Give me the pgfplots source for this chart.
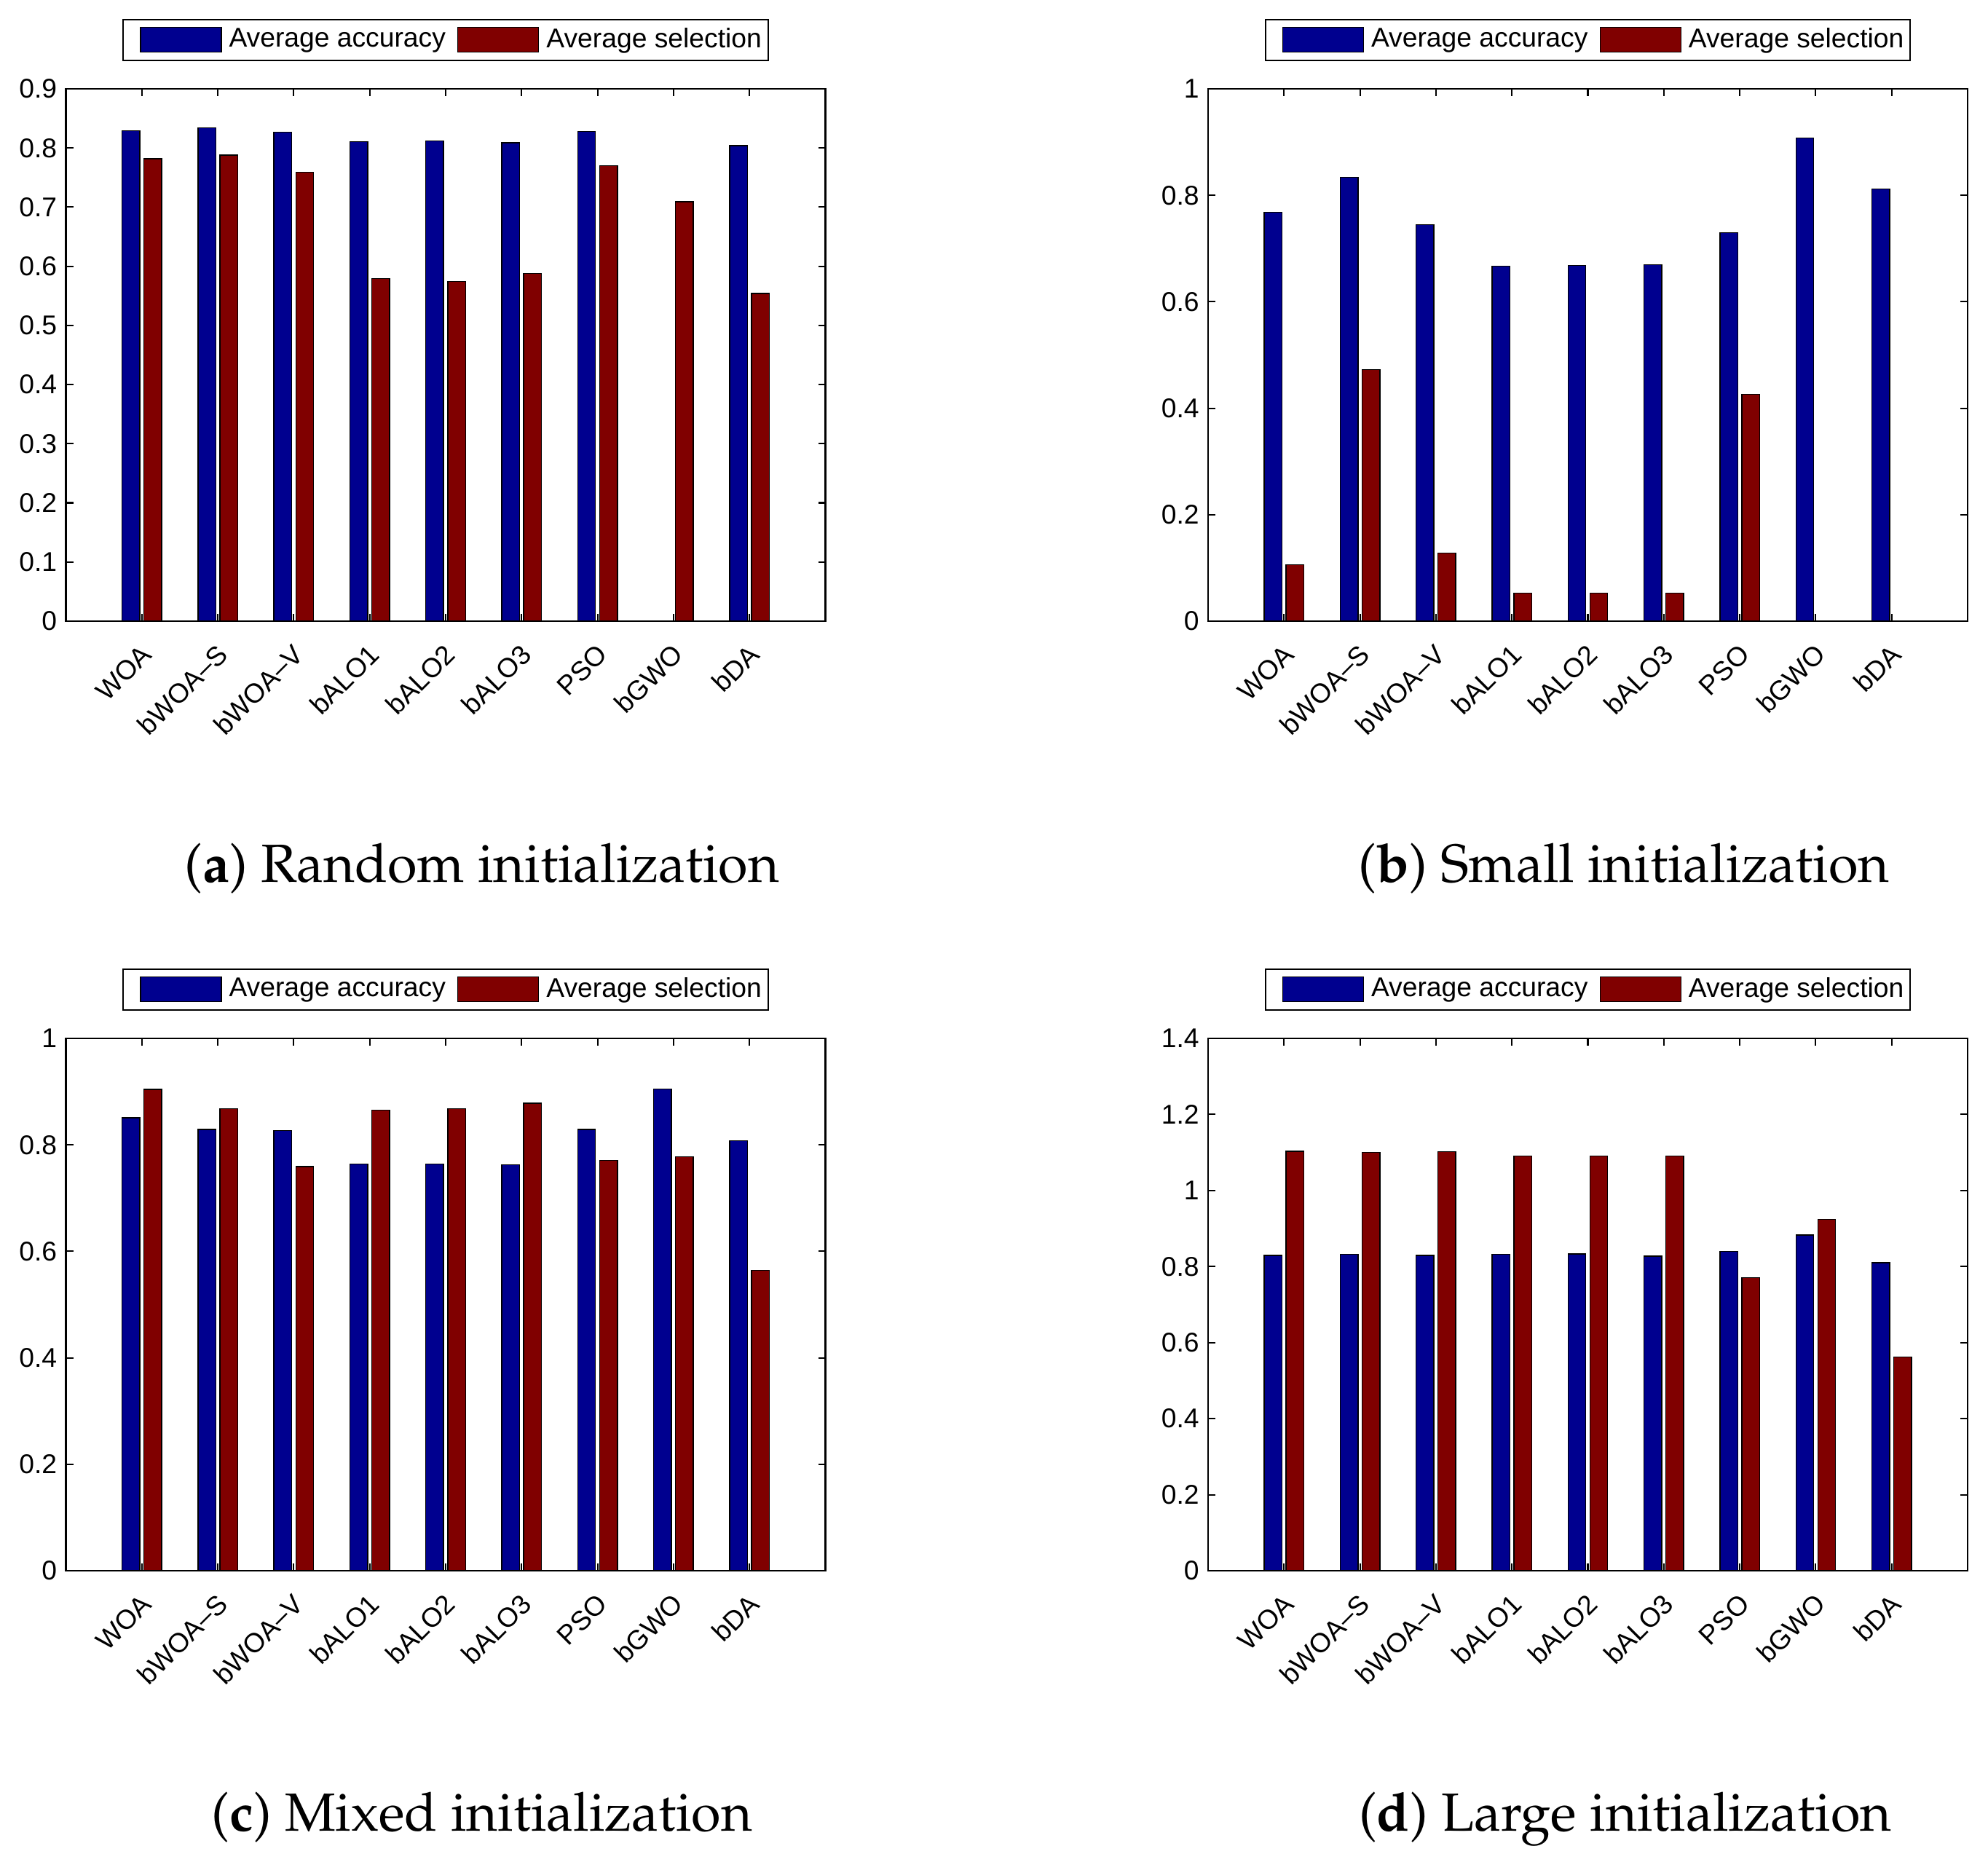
\documentclass[border=0pt]{standalone}
\usepackage{fontspec}
\setsansfont{Liberation Sans}
\usepackage{pgfplots}
\pgfplotsset{compat=1.18}

\definecolor{accblue}{RGB}{0,0,143}
\definecolor{selred}{RGB}{128,0,0}

\newcommand\tickfont{\sffamily\fontsize{10.6}{12}\selectfont}
\newcommand\capfont{\fontencoding{OT1}\fontfamily{ppl}\fontseries{m}\fontshape{n}\fontsize{21}{25}\selectfont}

\pgfplotsset{
  panel/.style={
    scale only axis, width=10.43cm, height=7.31cm,
    xmin=0, xmax=10, ymin=0,
    ybar,
    xtick={1,...,9},
    xticklabels={WOA,bWOA–S,bWOA–V,bALO1,bALO2,bALO3,PSO,bGWO,bDA},
    tick align=inside, major tick length=0.1cm,
    ticklabel style={font=\tickfont},
    xticklabel style={inner sep=0pt, xshift=0.16cm, yshift=-0.48cm, rotate=45, anchor=base east},
    /pgf/number format/assume math mode=true,
    axis line style={line width=0.6pt},
    every tick/.style={black, line width=0.6pt},
    legend columns=2,
    legend style={at={(0.5,1)}, anchor=south, yshift=0.38cm, draw=black,
      line width=0.6pt, fill=white, font=\tickfont, inner xsep=0.09cm, inner ysep=0.05cm,
      nodes={inner xsep=0pt},
      /tikz/every even column/.append style={column sep=0.02cm}},
    legend image code/.code={%
      \path (0cm,0cm) (1.35cm,0cm);
      \draw[#1, line width=0.4pt] (0.14cm,-0.17cm) rectangle (1.25cm,0.17cm);},
  },
  accbar/.style={fill=accblue, draw=black, line width=0.4pt, bar width=0.234, bar shift=-0.144},
  selbar/.style={fill=selred, draw=black, line width=0.4pt, bar width=0.234, bar shift=0.144},
}

\begin{document}
\begin{tikzpicture}
\useasboundingbox (0,0) rectangle (27.3,25.56);

% (a) Random initialization
\begin{axis}[panel, at={(0.905cm,17.03cm)}, ymax=0.9,
  ytick={0,0.1,0.2,0.3,0.4,0.5,0.6,0.7,0.8,0.9}]
\addplot[accbar] coordinates {(1,0.829) (2,0.834) (3,0.827) (4,0.811) (5,0.812) (6,0.809) (7,0.828) (8,0) (9,0.804)};
\addplot[selbar] coordinates {(1,0.782) (2,0.788) (3,0.759) (4,0.579) (5,0.574) (6,0.588) (7,0.770) (8,0.709) (9,0.554)};
\legend{Average accuracy, Average selection}
\end{axis}

% (b) Small initialization
\begin{axis}[panel, at={(16.59cm,17.03cm)}, ymax=1,
  ytick={0,0.2,0.4,0.6,0.8,1}]
\addplot[accbar] coordinates {(1,0.768) (2,0.834) (3,0.745) (4,0.667) (5,0.668) (6,0.670) (7,0.730) (8,0.908) (9,0.812)};
\addplot[selbar] coordinates {(1,0.106) (2,0.473) (3,0.128) (4,0.053) (5,0.053) (6,0.053) (7,0.426) (8,0) (9,0)};
\legend{Average accuracy, Average selection}
\end{axis}

% (c) Mixed initialization
\begin{axis}[panel, at={(0.905cm,3.99cm)}, ymax=1,
  ytick={0,0.2,0.4,0.6,0.8,1}]
\addplot[accbar] coordinates {(1,0.851) (2,0.829) (3,0.827) (4,0.764) (5,0.764) (6,0.763) (7,0.829) (8,0.905) (9,0.808)};
\addplot[selbar] coordinates {(1,0.904) (2,0.868) (3,0.759) (4,0.865) (5,0.868) (6,0.878) (7,0.771) (8,0.778) (9,0.564)};
\legend{Average accuracy, Average selection}
\end{axis}

% (d) Large initialization
\begin{axis}[panel, at={(16.59cm,3.99cm)}, ymax=1.4,
  ytick={0,0.2,0.4,0.6,0.8,1,1.2,1.4}]
\addplot[accbar] coordinates {(1,0.829) (2,0.832) (3,0.829) (4,0.832) (5,0.833) (6,0.827) (7,0.840) (8,0.883) (9,0.810)};
\addplot[selbar] coordinates {(1,1.103) (2,1.100) (3,1.102) (4,1.091) (5,1.091) (6,1.091) (7,0.771) (8,0.924) (9,0.562)};
\legend{Average accuracy, Average selection}
\end{axis}

\node[anchor=base] at (6.62,13.44) {\capfont(\textbf{a}) Random initialization};
\node[anchor=base] at (22.30,13.44) {\capfont(\textbf{b}) Small initialization};
\node[anchor=base] at (6.62,0.42) {\capfont(\textbf{c}) Mixed initialization};
\node[anchor=base] at (22.32,0.42) {\capfont(\textbf{d}) Large initialization};
\end{tikzpicture}
\end{document}
